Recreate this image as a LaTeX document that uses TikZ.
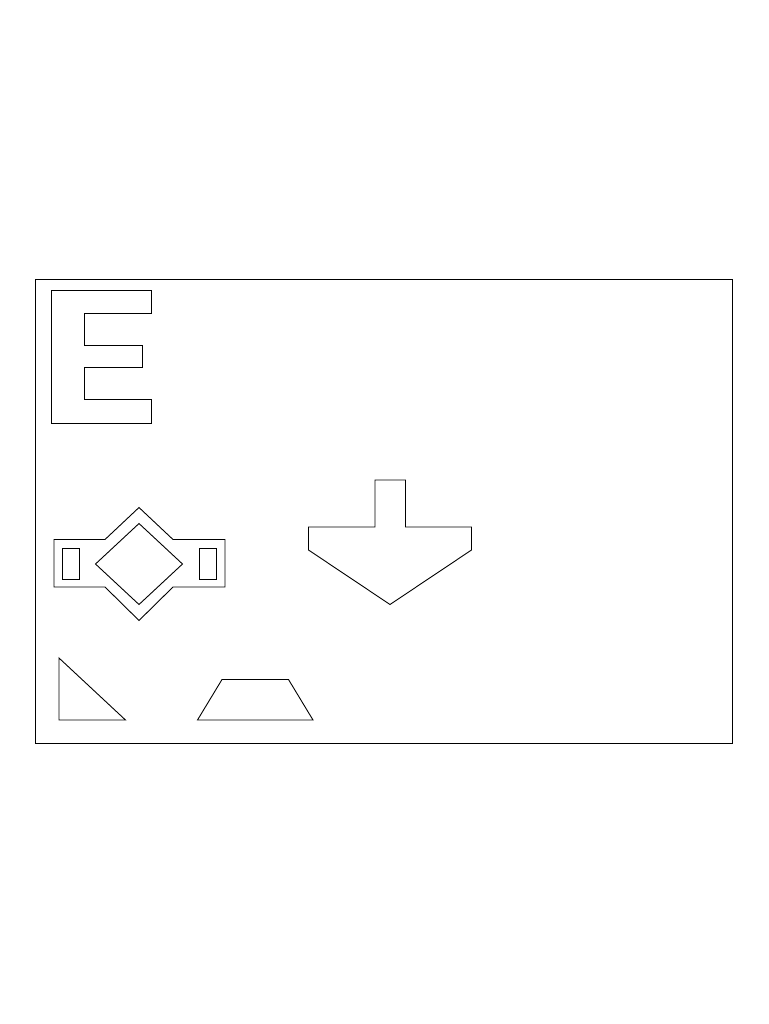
\documentclass[tikz,border=0pt]{standalone}
\begin{document}
\begin{tikzpicture}[x=1pt,y=-1pt,outline/.style={draw=black,line width=0.9pt,line join=miter}]
\useasboundingbox (0,0) rectangle (768,1024);
% frame
\draw[outline] (35,279) rectangle (732,743);
% E
\draw[outline] (51,290) -- (151,290) -- (151,313) -- (84,313) -- (84,345) -- (142,345) -- (142,367) -- (84,367) -- (84,399) -- (151,399) -- (151,423) -- (51,423) -- cycle;
% band with outer diamond
\draw[outline] (54,539.5) -- (105,539.5) -- (139,507.5) -- (173,539.5) -- (225,539.5) -- (225,587) -- (173,587) -- (139,620.5) -- (105,587) -- (54,587) -- cycle;
% inner diamond
\draw[outline] (139,523.5) -- (182.5,564) -- (139,604.5) -- (95.5,564) -- cycle;
% small rectangles
\draw[outline] (62,548.5) rectangle (79.5,579.5);
\draw[outline] (199.5,548.5) rectangle (216.5,579.5);
% arrow
\draw[outline] (375,480) -- (405.5,480) -- (405.5,527) -- (471.5,527) -- (471.5,550) -- (390,604.5) -- (308.5,550) -- (308.5,527) -- (375,527) -- cycle;
% triangle
\draw[outline] (59,658) -- (125.5,720) -- (59,720) -- cycle;
% trapezoid
\draw[outline] (197.5,720) -- (222,679.5) -- (288.5,679.5) -- (313,720) -- cycle;
\end{tikzpicture}
\end{document}
